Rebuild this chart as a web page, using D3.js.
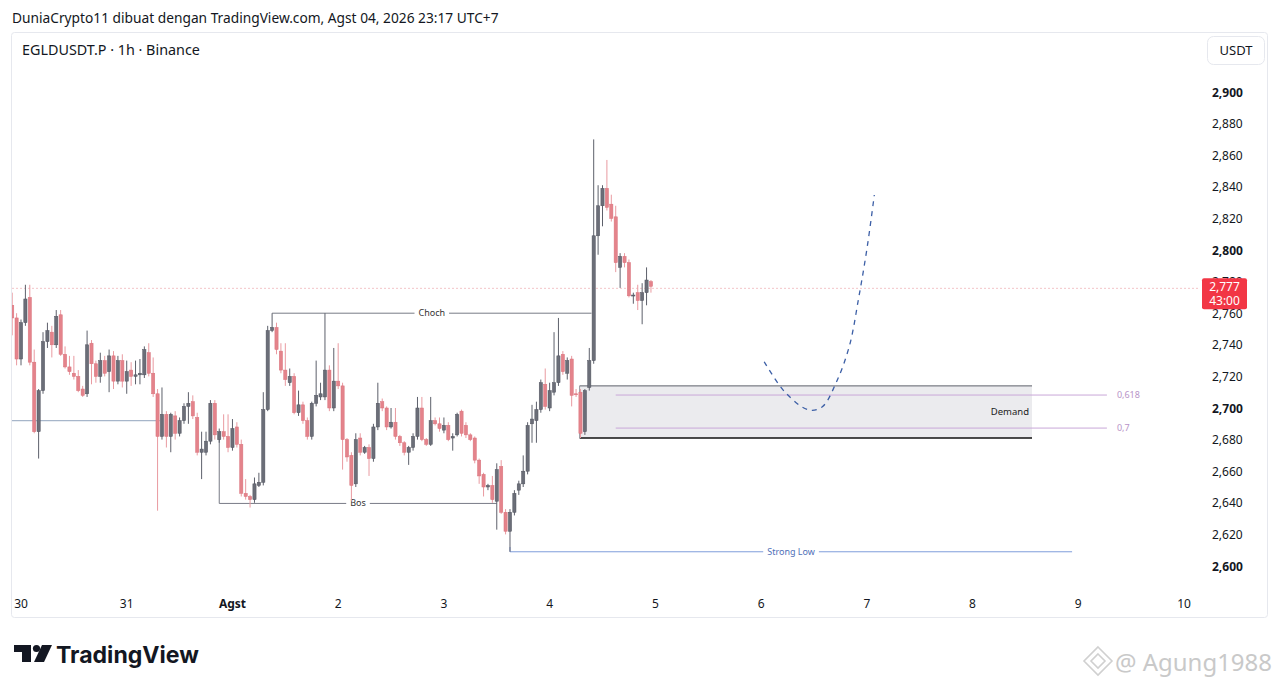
<!DOCTYPE html>
<html><head><meta charset="utf-8">
<script src="https://cdn.jsdelivr.net/npm/d3@7"></script>
<style>
body{margin:0;background:#fff;}
svg{display:block;font-family:"Noto Sans",Roboto,sans-serif;}
</style></head>
<body><svg id="chart" width="1280" height="689"></svg>
<script>
// ---------- DATA ----------
// hourly candles, first candle = Jul 29 22:00, last = Aug 4 23:00 ; rows: [open, high, low, close]
const ohlc = [
[2765,2773,2746,2757],[2757,2760,2727,2731],[2731,2756,2727,2754],[2754,2778,2752,2769],
[2770,2778,2727,2729],[2729,2737,2684,2685],[2685,2712,2668,2711],[2711,2748,2709,2742],
[2742,2754,2738,2749],[2748,2752,2732,2740],[2740,2762,2738,2758],[2759,2762,2733,2734],
[2734,2739,2725,2726],[2726,2733,2721,2723],[2722,2733,2718,2720],[2720,2724,2710,2711],
[2712,2714,2707,2708],[2709,2749,2707,2740],[2741,2743,2715,2728],[2728,2730,2716,2720],
[2720,2735,2716,2730],[2730,2733,2720,2722],[2723,2737,2710,2733],[2733,2736,2712,2717],
[2717,2733,2715,2730],[2730,2734,2713,2717],[2717,2730,2709,2723],[2724,2729,2714,2720],
[2720,2730,2715,2721],[2721,2731,2715,2722],[2721,2739,2719,2737],[2735,2741,2720,2722],
[2722,2732,2707,2709],[2709,2712,2635,2682],[2682,2713,2680,2696],[2696,2698,2675,2682],
[2682,2697,2672,2696],[2695,2698,2680,2684],[2684,2694,2682,2692],[2692,2703,2690,2701],
[2701,2710,2690,2703],[2704,2708,2693,2695],[2694,2697,2670,2672],[2672,2685,2655,2674],
[2672,2685,2670,2679],[2679,2705,2677,2703],[2703,2705,2680,2683],[2680,2687,2678,2685],
[2685,2696,2680,2682],[2682,2696,2672,2675],[2675,2693,2673,2687],[2688,2691,2675,2677],
[2677,2680,2644,2646],[2646,2655,2642,2644],[2644,2645,2637,2642],[2642,2656,2640,2652],
[2651,2659,2650,2653],[2653,2710,2651,2699],[2699,2752,2698,2749],[2749,2760,2748,2751],
[2751,2754,2734,2737],[2736,2741,2722,2724],[2724,2741,2714,2718],[2716,2725,2714,2720],
[2720,2722,2696,2697],[2697,2711,2695,2702],[2702,2704,2690,2692],[2692,2694,2680,2682],
[2682,2704,2680,2703],[2703,2730,2701,2708],[2707,2716,2705,2709],[2707,2760,2705,2724],
[2724,2727,2698,2700],[2700,2738,2698,2717],[2717,2741,2712,2714],[2714,2716,2661,2680],
[2680,2681,2666,2669],[2670,2672,2641,2651],[2652,2684,2650,2680],[2681,2684,2670,2672],
[2672,2676,2671,2675],[2675,2677,2657,2668],[2668,2690,2666,2688],[2688,2716,2686,2703],
[2704,2706,2698,2700],[2700,2701,2686,2688],[2688,2700,2687,2691],[2691,2700,2680,2682],
[2682,2683,2676,2678],[2678,2679,2670,2672],[2672,2676,2664,2675],[2675,2684,2673,2682],
[2682,2707,2680,2700],[2700,2707,2679,2680],[2680,2681,2676,2677],[2677,2707,2676,2692],
[2692,2694,2689,2690],[2690,2694,2685,2687],[2686,2694,2684,2689],[2689,2691,2679,2680],
[2681,2684,2673,2682],[2683,2697,2682,2696],[2698,2699,2682,2684],[2689,2691,2681,2683],
[2683,2684,2679,2680],[2681,2682,2665,2667],[2667,2668,2652,2657],[2658,2659,2644,2650],
[2650,2652,2648,2651],[2651,2657,2640,2642],[2641,2665,2623,2661],[2663,2667,2633,2634],
[2634,2636,2620,2622],[2622,2636,2609,2634],[2634,2648,2632,2646],[2648,2654,2645,2652],
[2652,2670,2650,2660],[2660,2691,2658,2689],[2690,2702,2678,2693],[2692,2704,2678,2699],
[2699,2718,2697,2716],[2715,2725,2699,2701],[2700,2716,2698,2711],[2710,2748,2708,2716],
[2716,2757,2714,2733],[2734,2736,2721,2723],[2722,2732,2718,2730],[2731,2733,2701,2708],
[2709,2712,2707,2708.5],[2710,2712,2681,2684],[2685,2712,2683,2711],[2713,2738,2711,2730],
[2730,2870,2728,2809],[2809,2841,2797,2828],[2828,2841,2815,2839],[2839,2857,2825,2827],
[2829,2835,2818,2820],[2821,2828,2786,2792],[2789,2798,2776,2796],[2796,2798,2789,2792],
[2792,2794,2770,2771],[2771,2773,2766,2771.5],[2773,2778,2762,2768],[2768,2779,2753,2773],
[2773,2789,2765,2781],[2780,2781,2773,2777]
];
const firstCandleHour = -2;            // hours relative to Jul 30 00:00
const dayLabels = ["30","31","Agst","2","3","4","5","6","7","8","9","10"];
const priceTicks = [2600,2620,2640,2660,2680,2700,2720,2740,2760,2780,2800,2820,2840,2860,2880,2900];
const boldTicks = [2600,2700,2800,2900];
const lastPrice = 2777, countdown = "43:00";
// drawings: hours relative to Jul 30 00:00, price levels
const chochLine = {from:57, to:129.5, price:2760, label:"Choch"};
const bosLine = {from:45, to:108, price:2639.6, label:"Bos"};
const strongLow = {from:111, to:238.6, price:2609, label:"Strong Low"};
const leftLevel = {from:-3, to:31.5, price:2692};
const demandZone = {from:126.8, to:229.5, top:2714, bottom:2681, label:"Demand"};
const fibLevels = [{ratio:"0,618", price:2708.2},{ratio:"0,7", price:2687.3}];
const fibRange = {from:135, to:246.5};
const projection = [[168.7,2729.3],[173.6,2709.5],[178.9,2698.7],[181.9,2700.8],[185,2715.8],
                    [188,2738.8],[190.2,2770.4],[192.1,2802.1],[193.7,2834.8]];

// ---------- SCALES ----------
const svg = d3.select("#chart");
const base = Date.UTC(2026,6,30,0);
const x = d3.scaleUtc().domain([new Date(base), new Date(Date.UTC(2026,7,10,0))]).range([21,1184]);
const hx = h => x(new Date(base + h*3600e3));
const y = d3.scaleLinear().domain([2600,2900]).range([566,92]);

function fit(sel, w){ const n=sel.node(); const cur=n.getComputedTextLength(); const fs=parseFloat(sel.attr("font-size")); sel.attr("font-size", fs*w/cur); }

// header
const hdr = svg.append("text").attr("x",12).attr("y",23).attr("font-size",14).attr("fill","#131722")
  .text("DuniaCrypto11 dibuat dengan TradingView.com, Agst 04, 2026 23:17 UTC+7");
fit(hdr, 487);

// panel
svg.append("rect").attr("x",11.5).attr("y",32.5).attr("width",1256).attr("height",585).attr("rx",3)
  .attr("fill","#fff").attr("stroke","#e6e8ee");

const sym = svg.append("text").attr("x",22).attr("y",55).attr("font-size",13.5).attr("fill","#131722")
  .text("EGLDUSDT.P · 1h · Binance");
fit(sym, 178);

// USDT button
svg.append("rect").attr("x",1207.5).attr("y",36.5).attr("width",57).attr("height",28).attr("rx",6)
  .attr("fill","#fff").attr("stroke","#e6e8ee");
svg.append("text").attr("x",1236).attr("y",55).attr("text-anchor","middle").attr("font-size",13).attr("fill","#131722").text("USDT");

// clip
svg.append("clipPath").attr("id","clip").append("rect").attr("x",12).attr("y",33).attr("width",1188).attr("height",552);
const g = svg.append("g").attr("clip-path","url(#clip)");

// last price dotted line
g.append("line").attr("x1",12).attr("x2",1200).attr("y1",y(lastPrice)+2).attr("y2",y(lastPrice)+2)
  .attr("stroke","#f3c4c8").attr("stroke-width",1).attr("stroke-dasharray","2,2");

// demand zone
const dz = demandZone;
g.append("rect").attr("x",hx(dz.from)).attr("y",y(dz.top)).attr("width",hx(dz.to)-hx(dz.from)).attr("height",y(dz.bottom)-y(dz.top))
  .attr("fill","#ebebee");
// fib lines
fibLevels.forEach(f=>{
  g.append("line").attr("x1",hx(fibRange.from)).attr("x2",hx(fibRange.to)).attr("y1",y(f.price)).attr("y2",y(f.price))
    .attr("stroke","#c9a7d8").attr("stroke-width",1);
  g.append("text").attr("x",hx(fibRange.to)+10).attr("y",y(f.price)+3).attr("font-size",9).attr("fill","#b894c8").text(f.ratio);
});
g.append("line").attr("x1",hx(dz.from)).attr("x2",hx(dz.to)).attr("y1",y(dz.top)).attr("y2",y(dz.top)).attr("stroke","#5d606b").attr("stroke-width",1);
g.append("line").attr("x1",hx(dz.from)).attr("x2",hx(dz.to)).attr("y1",y(dz.bottom)).attr("y2",y(dz.bottom)).attr("stroke","#111").attr("stroke-width",1.5);
g.append("line").attr("x1",hx(dz.from)).attr("x2",hx(dz.from)).attr("y1",y(dz.top)).attr("y2",y(dz.bottom)).attr("stroke","#9598a1").attr("stroke-width",1);
g.append("text").attr("x",hx(dz.to)-3).attr("y",y((dz.top+dz.bottom)/2)+3.5).attr("text-anchor","end").attr("font-size",9.5).attr("fill","#222").text(dz.label);

// left level
g.append("line").attr("x1",hx(leftLevel.from)).attr("x2",hx(leftLevel.to)).attr("y1",y(leftLevel.price)).attr("y2",y(leftLevel.price))
  .attr("stroke","#a7b6ca").attr("stroke-width",1.3);

// labeled lines
function labeledLine(L, color, textColor){
  const x1=hx(L.from), x2=hx(L.to), yy=y(L.price);
  g.append("line").attr("x1",x1).attr("x2",x2).attr("y1",yy).attr("y2",yy).attr("stroke",color).attr("stroke-width",1);
  const t = g.append("text").attr("x",(x1+x2)/2).attr("y",yy+3).attr("text-anchor","middle").attr("font-size",9).attr("fill",textColor).text(L.label);
  const bb = t.node().getBBox();
  g.insert("rect", () => t.node()).attr("x",bb.x-4).attr("y",yy-3).attr("width",bb.width+8).attr("height",6).attr("fill","#fff");
}
labeledLine(chochLine, "#787b86", "#333");
labeledLine(bosLine, "#787b86", "#333");
// bos left vertical
g.append("line").attr("x1",hx(bosLine.from)).attr("x2",hx(bosLine.from)).attr("y1",y(2681)).attr("y2",y(bosLine.price)).attr("stroke","#787b86");
labeledLine(strongLow, "#7f9ddb", "#4f70b8");
g.append("line").attr("x1",hx(strongLow.from)).attr("x2",hx(strongLow.from)).attr("y1",y(2612)).attr("y2",y(strongLow.price)).attr("stroke","#7f9ddb");

// candles
const bw = 3.2;
const cg = g.append("g");
ohlc.forEach((d,i)=>{
  const cx = hx(firstCandleHour+i);
  const [o,h,l,c] = d;
  const up = c>=o;
  const wick = up ? "#5d606b" : "#e99aa0";
  const body = up ? "#6b6e78" : "#e4838b";
  const edge = up ? "#50535e" : "#d9737c";
  cg.append("line").attr("x1",cx).attr("x2",cx).attr("y1",y(h)).attr("y2",y(l)).attr("stroke",wick).attr("stroke-width",1);
  const top = y(Math.max(o,c)), bot = y(Math.min(o,c));
  cg.append("rect").attr("x",cx-bw/2).attr("y",top).attr("width",bw).attr("height",Math.max(1,bot-top))
    .attr("fill",body).attr("stroke",edge).attr("stroke-width",0.5);
});

// projection
g.append("path").datum(projection).attr("fill","none").attr("stroke","#3c5fa6").attr("stroke-width",1.3)
  .attr("stroke-dasharray","5,5")
  .attr("d", d3.line().x(p=>hx(p[0])).y(p=>y(p[1])).curve(d3.curveCatmullRom));

// price axis labels
priceTicks.forEach(p=>{
  svg.append("text").attr("x",1212).attr("y",y(p)+4.5).attr("font-size",12)
    .attr("font-weight", boldTicks.includes(p)?700:400).attr("fill","#131722").text(d3.format(",")(p));
});
// last price label
const ly = y(lastPrice);
svg.append("rect").attr("x",1202).attr("y",ly-8).attr("width",45).attr("height",31).attr("rx",2).attr("fill","#f23645");
svg.append("text").attr("x",1224.5).attr("y",ly+5).attr("text-anchor","middle").attr("font-size",12).attr("fill","#fff").text(d3.format(",")(lastPrice));
svg.append("text").attr("x",1224.5).attr("y",ly+19).attr("text-anchor","middle").attr("font-size",12).attr("fill","#fff").text(countdown);

// time axis
const days = d3.utcDay.range(new Date(base), new Date(Date.UTC(2026,7,10,1)));
days.forEach((dt,i)=>{
  svg.append("text").attr("x",x(dt)).attr("y",608).attr("text-anchor","middle").attr("font-size",12)
    .attr("font-weight", dayLabels[i]==="Agst"?700:400).attr("fill","#131722").text(dayLabels[i]);
});

// TradingView logo
const lg = svg.append("g").attr("fill","#131722");
lg.append("path").attr("d","M14,645 H31 V662 H22 V652 H14 Z");
lg.append("circle").attr("cx",36.5).attr("cy",648.5).attr("r",3.6);
lg.append("path").attr("d","M42,645 H52 L44,662 H34 Z");
const tv = svg.append("text").attr("x",56).attr("y",662.5).attr("font-family","Inter, 'Noto Sans', sans-serif")
  .attr("font-weight",700).attr("font-size",24).attr("fill","#131722").text("TradingView");
fit(tv, 143);

// watermark
const wm = svg.append("g").attr("fill","none").attr("stroke","#d0d0d0").attr("stroke-width",1.6);
wm.append("path").attr("d","M1098,647 L1112,661 L1098,675 L1084,661 Z");
wm.append("path").attr("d","M1098,654 L1105,661 L1098,668 L1091,661 Z");
const wt = svg.append("text").attr("x",1115).attr("y",671).attr("font-size",24).attr("fill","#c9c9c9").text("@ Agung1988");
fit(wt, 157);
</script>
</body></html>
